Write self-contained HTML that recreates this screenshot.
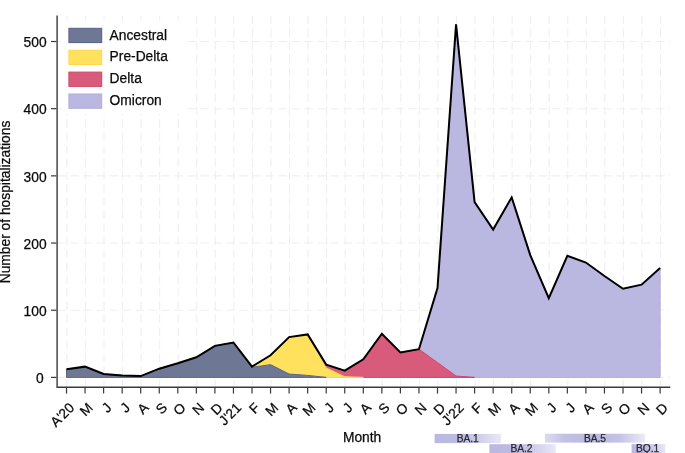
<!DOCTYPE html>
<html><head><meta charset="utf-8"><title>Hospitalizations by variant</title>
<style>html,body{margin:0;padding:0;background:#fff}svg{display:block}</style></head>
<body>
<svg width="685" height="453" viewBox="0 0 685 453">
<rect width="685" height="453" fill="#fff"/>
<g stroke="#efefef" stroke-width="1.1" stroke-dasharray="8.4 4.6" fill="none"><line x1="66.90" y1="15.5" x2="66.90" y2="386.5"/><line x1="85.45" y1="15.5" x2="85.45" y2="386.5"/><line x1="104.00" y1="15.5" x2="104.00" y2="386.5"/><line x1="122.55" y1="15.5" x2="122.55" y2="386.5"/><line x1="141.10" y1="15.5" x2="141.10" y2="386.5"/><line x1="159.65" y1="15.5" x2="159.65" y2="386.5"/><line x1="178.20" y1="15.5" x2="178.20" y2="386.5"/><line x1="196.75" y1="15.5" x2="196.75" y2="386.5"/><line x1="215.30" y1="15.5" x2="215.30" y2="386.5"/><line x1="233.85" y1="15.5" x2="233.85" y2="386.5"/><line x1="252.40" y1="15.5" x2="252.40" y2="386.5"/><line x1="270.95" y1="15.5" x2="270.95" y2="386.5"/><line x1="289.50" y1="15.5" x2="289.50" y2="386.5"/><line x1="308.05" y1="15.5" x2="308.05" y2="386.5"/><line x1="326.60" y1="15.5" x2="326.60" y2="386.5"/><line x1="345.15" y1="15.5" x2="345.15" y2="386.5"/><line x1="363.70" y1="15.5" x2="363.70" y2="386.5"/><line x1="382.25" y1="15.5" x2="382.25" y2="386.5"/><line x1="400.80" y1="15.5" x2="400.80" y2="386.5"/><line x1="419.35" y1="15.5" x2="419.35" y2="386.5"/><line x1="437.90" y1="15.5" x2="437.90" y2="386.5"/><line x1="456.45" y1="15.5" x2="456.45" y2="386.5"/><line x1="475.00" y1="15.5" x2="475.00" y2="386.5"/><line x1="493.55" y1="15.5" x2="493.55" y2="386.5"/><line x1="512.10" y1="15.5" x2="512.10" y2="386.5"/><line x1="530.65" y1="15.5" x2="530.65" y2="386.5"/><line x1="549.20" y1="15.5" x2="549.20" y2="386.5"/><line x1="567.75" y1="15.5" x2="567.75" y2="386.5"/><line x1="586.30" y1="15.5" x2="586.30" y2="386.5"/><line x1="604.85" y1="15.5" x2="604.85" y2="386.5"/><line x1="623.40" y1="15.5" x2="623.40" y2="386.5"/><line x1="641.95" y1="15.5" x2="641.95" y2="386.5"/><line x1="660.50" y1="15.5" x2="660.50" y2="386.5"/><line x1="57.5" y1="377.40" x2="670" y2="377.40"/><line x1="57.5" y1="310.22" x2="670" y2="310.22"/><line x1="57.5" y1="243.04" x2="670" y2="243.04"/><line x1="57.5" y1="175.86" x2="670" y2="175.86"/><line x1="57.5" y1="108.68" x2="670" y2="108.68"/><line x1="57.5" y1="41.50" x2="670" y2="41.50"/></g>
<path d="M418.95 377.40 L418.95 349.18 L437.50 288.05 L456.05 24.37 L474.60 202.06 L493.15 229.60 L511.70 197.36 L530.25 255.13 L548.80 298.13 L567.35 255.80 L585.90 262.52 L604.45 275.96 L623.00 288.72 L641.55 284.69 L660.10 267.90 L660.10 377.40 Z" fill="#bab7e1" stroke="#b2aede" stroke-width="1"/>
<path d="M307.65 377.40 L307.65 334.40 L326.20 364.64 L344.75 370.68 L363.30 359.93 L381.85 333.73 L400.40 352.54 L418.95 349.18 L437.50 362.62 L456.05 376.06 L474.60 377.40 L474.60 377.40 Z" fill="#d95b7c" stroke="#d3456b" stroke-width="1"/>
<path d="M233.45 377.40 L233.45 342.47 L252.00 366.65 L270.55 355.23 L289.10 337.09 L307.65 334.40 L326.20 367.99 L344.75 376.73 L363.30 377.40 L363.30 377.40 Z" fill="#ffe15d" stroke="#ffd94a" stroke-width="1"/>
<path d="M66.50 377.40 L66.50 369.34 L85.05 366.65 L103.60 374.04 L122.15 375.38 L140.70 376.06 L159.25 368.67 L177.80 363.29 L196.35 357.25 L214.90 345.83 L233.45 342.47 L252.00 367.32 L270.55 364.64 L289.10 374.04 L307.65 375.38 L326.20 377.40 L326.20 377.40 Z" fill="#6e7894" stroke="#5b6586" stroke-width="1"/>
<path d="M66.50 369.34 L85.05 366.65 L103.60 374.04 L122.15 375.38 L140.70 376.06 L159.25 368.67 L177.80 363.29 L196.35 357.25 L214.90 345.83 L233.45 342.47 L252.00 366.65 L270.55 355.23 L289.10 337.09 L307.65 334.40 L326.20 364.64 L344.75 370.68 L363.30 359.26 L381.85 333.73 L400.40 352.54 L418.95 349.18 L437.50 288.05 L456.05 24.37 L474.60 202.06 L493.15 229.60 L511.70 197.36 L530.25 255.13 L548.80 298.13 L567.35 255.80 L585.90 262.52 L604.45 275.96 L623.00 288.72 L641.55 284.69 L660.10 267.90" fill="none" stroke="#000" stroke-width="2" stroke-linejoin="miter" stroke-miterlimit="3"/>
<g stroke="#3a3a3a" stroke-width="1.4" fill="none">
<path d="M57.1 15.5 V387.2 H670.3"/>
</g>
<g stroke="#3a3a3a" stroke-width="1.2"><line x1="51" y1="377.40" x2="56.4" y2="377.40"/><line x1="51" y1="310.22" x2="56.4" y2="310.22"/><line x1="51" y1="243.04" x2="56.4" y2="243.04"/><line x1="51" y1="175.86" x2="56.4" y2="175.86"/><line x1="51" y1="108.68" x2="56.4" y2="108.68"/><line x1="51" y1="41.50" x2="56.4" y2="41.50"/><line x1="66.50" y1="387.8" x2="66.50" y2="393.6"/><line x1="85.05" y1="387.8" x2="85.05" y2="393.6"/><line x1="103.60" y1="387.8" x2="103.60" y2="393.6"/><line x1="122.15" y1="387.8" x2="122.15" y2="393.6"/><line x1="140.70" y1="387.8" x2="140.70" y2="393.6"/><line x1="159.25" y1="387.8" x2="159.25" y2="393.6"/><line x1="177.80" y1="387.8" x2="177.80" y2="393.6"/><line x1="196.35" y1="387.8" x2="196.35" y2="393.6"/><line x1="214.90" y1="387.8" x2="214.90" y2="393.6"/><line x1="233.45" y1="387.8" x2="233.45" y2="393.6"/><line x1="252.00" y1="387.8" x2="252.00" y2="393.6"/><line x1="270.55" y1="387.8" x2="270.55" y2="393.6"/><line x1="289.10" y1="387.8" x2="289.10" y2="393.6"/><line x1="307.65" y1="387.8" x2="307.65" y2="393.6"/><line x1="326.20" y1="387.8" x2="326.20" y2="393.6"/><line x1="344.75" y1="387.8" x2="344.75" y2="393.6"/><line x1="363.30" y1="387.8" x2="363.30" y2="393.6"/><line x1="381.85" y1="387.8" x2="381.85" y2="393.6"/><line x1="400.40" y1="387.8" x2="400.40" y2="393.6"/><line x1="418.95" y1="387.8" x2="418.95" y2="393.6"/><line x1="437.50" y1="387.8" x2="437.50" y2="393.6"/><line x1="456.05" y1="387.8" x2="456.05" y2="393.6"/><line x1="474.60" y1="387.8" x2="474.60" y2="393.6"/><line x1="493.15" y1="387.8" x2="493.15" y2="393.6"/><line x1="511.70" y1="387.8" x2="511.70" y2="393.6"/><line x1="530.25" y1="387.8" x2="530.25" y2="393.6"/><line x1="548.80" y1="387.8" x2="548.80" y2="393.6"/><line x1="567.35" y1="387.8" x2="567.35" y2="393.6"/><line x1="585.90" y1="387.8" x2="585.90" y2="393.6"/><line x1="604.45" y1="387.8" x2="604.45" y2="393.6"/><line x1="623.00" y1="387.8" x2="623.00" y2="393.6"/><line x1="641.55" y1="387.8" x2="641.55" y2="393.6"/><line x1="660.10" y1="387.8" x2="660.10" y2="393.6"/></g>
<g font-family="'Liberation Sans', Arial, Helvetica, sans-serif" font-size="13.8" fill="#0a0a0a" stroke="#0a0a0a" stroke-width="0.25">
<text x="43.6" y="382.60" text-anchor="end">0</text>
<text x="46.6" y="315.92" text-anchor="end">100</text>
<text x="46.6" y="248.74" text-anchor="end">200</text>
<text x="46.6" y="181.56" text-anchor="end">300</text>
<text x="46.6" y="114.38" text-anchor="end">400</text>
<text x="46.6" y="47.20" text-anchor="end">500</text>
<text transform="translate(75.20 408.60) rotate(-45)" text-anchor="end">A&#39;20</text>
<text transform="translate(93.75 408.60) rotate(-45)" text-anchor="end">M</text>
<text transform="translate(112.30 408.60) rotate(-45)" text-anchor="end">J</text>
<text transform="translate(130.85 408.60) rotate(-45)" text-anchor="end">J</text>
<text transform="translate(149.40 408.60) rotate(-45)" text-anchor="end">A</text>
<text transform="translate(167.95 408.60) rotate(-45)" text-anchor="end">S</text>
<text transform="translate(186.50 408.60) rotate(-45)" text-anchor="end">O</text>
<text transform="translate(205.05 408.60) rotate(-45)" text-anchor="end">N</text>
<text transform="translate(223.60 408.60) rotate(-45)" text-anchor="end">D</text>
<text transform="translate(242.15 408.60) rotate(-45)" text-anchor="end">J&#39;21</text>
<text transform="translate(260.70 408.60) rotate(-45)" text-anchor="end">F</text>
<text transform="translate(279.25 408.60) rotate(-45)" text-anchor="end">M</text>
<text transform="translate(297.80 408.60) rotate(-45)" text-anchor="end">A</text>
<text transform="translate(316.35 408.60) rotate(-45)" text-anchor="end">M</text>
<text transform="translate(334.90 408.60) rotate(-45)" text-anchor="end">J</text>
<text transform="translate(353.45 408.60) rotate(-45)" text-anchor="end">J</text>
<text transform="translate(372.00 408.60) rotate(-45)" text-anchor="end">A</text>
<text transform="translate(390.55 408.60) rotate(-45)" text-anchor="end">S</text>
<text transform="translate(409.10 408.60) rotate(-45)" text-anchor="end">O</text>
<text transform="translate(427.65 408.60) rotate(-45)" text-anchor="end">N</text>
<text transform="translate(446.20 408.60) rotate(-45)" text-anchor="end">D</text>
<text transform="translate(464.75 408.60) rotate(-45)" text-anchor="end">J&#39;22</text>
<text transform="translate(483.30 408.60) rotate(-45)" text-anchor="end">F</text>
<text transform="translate(501.85 408.60) rotate(-45)" text-anchor="end">M</text>
<text transform="translate(520.40 408.60) rotate(-45)" text-anchor="end">A</text>
<text transform="translate(538.95 408.60) rotate(-45)" text-anchor="end">M</text>
<text transform="translate(557.50 408.60) rotate(-45)" text-anchor="end">J</text>
<text transform="translate(576.05 408.60) rotate(-45)" text-anchor="end">J</text>
<text transform="translate(594.60 408.60) rotate(-45)" text-anchor="end">A</text>
<text transform="translate(613.15 408.60) rotate(-45)" text-anchor="end">S</text>
<text transform="translate(631.70 408.60) rotate(-45)" text-anchor="end">O</text>
<text transform="translate(650.25 408.60) rotate(-45)" text-anchor="end">N</text>
<text transform="translate(668.80 408.60) rotate(-45)" text-anchor="end">D</text>
<text transform="translate(10 202) rotate(-90)" text-anchor="middle">Number of hospitalizations</text>
<text x="342.9" y="441.5">Month</text>
</g>
<rect x="62" y="20.6" width="121" height="92.9" fill="#fff"/>
<g font-family="'Liberation Sans', Arial, Helvetica, sans-serif" font-size="13.8" fill="#0a0a0a" stroke="#0a0a0a" stroke-width="0.25">
<rect x="68.9" y="28.30" width="32.8" height="14.3" fill="#6e7894" stroke="#56618a" stroke-width="1"/>
<text x="109.6" y="39.50">Ancestral</text>
<rect x="68.9" y="50.20" width="32.8" height="14.3" fill="#ffe15d" stroke="#ffd94a" stroke-width="1"/>
<text x="109.6" y="61.40">Pre-Delta</text>
<rect x="68.9" y="72.10" width="32.8" height="14.3" fill="#d95b7c" stroke="#d3456b" stroke-width="1"/>
<text x="109.6" y="83.30">Delta</text>
<rect x="68.9" y="94.00" width="32.8" height="14.3" fill="#bab7e1" stroke="#b2aede" stroke-width="1"/>
<text x="109.6" y="105.20">Omicron</text>
</g>
<defs>
<linearGradient id="g1" x1="0" x2="1" y1="0" y2="0"><stop offset="0" stop-color="#bab7e1"/><stop offset="0.45" stop-color="#bfbce3"/><stop offset="1" stop-color="#e9e8f6"/></linearGradient>
<linearGradient id="g5" x1="0" x2="1" y1="0" y2="0"><stop offset="0" stop-color="#dcdaf0"/><stop offset="0.2" stop-color="#c3c0e5"/><stop offset="0.5" stop-color="#bab7e1"/><stop offset="0.75" stop-color="#c6c3e6"/><stop offset="1" stop-color="#ecebf7"/></linearGradient>
</defs>
<g font-family="'Liberation Sans', Arial, Helvetica, sans-serif" font-size="10.2" fill="#2a2a2a" stroke="#2a2a2a" stroke-width="0.25" text-anchor="middle">
<rect x="434.6" y="433.9" width="66.4" height="9.2" fill="url(#g1)" stroke="none"/>
<text x="467.7" y="442.0">BA.1</text>
<rect x="489.4" y="444.2" width="66.3" height="8.8" fill="url(#g1)" stroke="none"/>
<text x="521.5" y="451.6">BA.2</text>
<rect x="544.9" y="433.7" width="100.1" height="8.9" fill="url(#g5)" stroke="none"/>
<text x="595.0" y="441.8">BA.5</text>
<rect x="631.6" y="444.2" width="33.8" height="8.8" fill="url(#g1)" stroke="none"/>
<text x="647.6" y="451.6">BQ.1</text>
</g>
</svg>
</body></html>
